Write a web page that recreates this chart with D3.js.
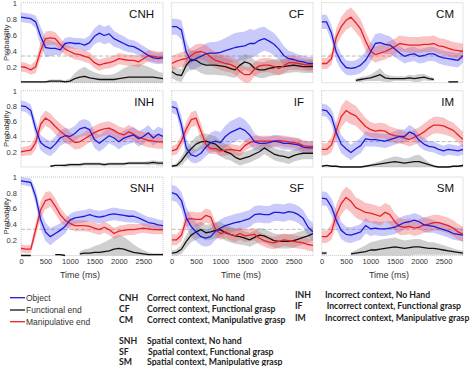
<!DOCTYPE html>
<html>
<head>
<meta charset="utf-8">
<script src="https://cdn.jsdelivr.net/npm/d3@7/dist/d3.min.js"></script>
<style>
  body { margin: 0; background: #fff; }
  svg { display: block; }
</style>
</head>
<body>
<div id="chart"></div>
<script>
// time grid (ms)
const times = [0,100,200,300,400,500,600,700,800,900,1000,1100,1200,1300,1400,1500,1600,1700,1800,1900,2000,2100,2200,2300,2400,2500,2600,2700,2800,2900];

const panelNames = ["CNH", "CF", "CM", "INH", "IF", "IM", "SNH", "SF", "SM"];
const yTicks = [0.2, 0.4, 0.6, 0.8, 1];
const xTicks = [0, 500, 1000, 1500, 2000, 2500];

// --- CNH
const cnhObject = [0.82,0.81,0.80,0.76,0.58,0.44,0.43,0.43,0.41,0.49,0.50,0.49,0.49,0.47,0.50,0.58,0.62,0.59,0.61,0.55,0.52,0.49,0.46,0.45,0.42,0.38,0.34,0.31,0.30,0.31];
const cnhObjectCI = [0.06,0.06,0.06,0.08,0.12,0.12,0.10,0.08,0.07,0.07,0.07,0.07,0.07,0.08,0.09,0.10,0.11,0.11,0.11,0.10,0.09,0.09,0.08,0.08,0.08,0.08,0.08,0.07,0.07,0.07];
const cnhFunctional = [0.01,0.01,0.01,0.01,0.01,0.01,0.02,0.02,0.02,0.01,0.02,0.05,0.07,0.08,0.06,0.05,0.04,0.04,0.04,0.04,0.05,0.06,0.07,0.07,0.07,0.07,0.07,0.07,0.06,0.05];
const cnhFunctionalCI = [0.01,0.01,0.01,0.01,0.01,0.01,0.02,0.02,0.02,0.02,0.03,0.07,0.10,0.12,0.10,0.08,0.07,0.06,0.06,0.07,0.09,0.12,0.14,0.15,0.16,0.15,0.13,0.10,0.08,0.07];
const cnhManipulative = [0.20,0.19,0.16,0.20,0.40,0.55,0.56,0.55,0.48,0.42,0.39,0.36,0.35,0.33,0.31,0.25,0.22,0.24,0.25,0.27,0.30,0.29,0.28,0.28,0.26,0.30,0.34,0.33,0.32,0.32];
const cnhManipulativeCI = [0.06,0.06,0.06,0.08,0.10,0.09,0.09,0.08,0.08,0.07,0.07,0.07,0.07,0.07,0.07,0.07,0.07,0.07,0.07,0.07,0.07,0.07,0.07,0.07,0.07,0.07,0.07,0.07,0.07,0.07];

// --- CF
const cfObject = [0.70,0.70,0.66,0.38,0.27,0.30,0.33,0.36,0.37,0.37,0.38,0.40,0.42,0.44,0.45,0.46,0.49,0.49,0.53,0.55,0.52,0.48,0.42,0.34,0.30,0.29,0.27,0.26,0.24,0.24];
const cfObjectCI = [0.10,0.10,0.12,0.14,0.12,0.12,0.12,0.13,0.14,0.14,0.15,0.16,0.17,0.18,0.18,0.18,0.18,0.17,0.16,0.15,0.14,0.14,0.13,0.12,0.10,0.09,0.08,0.08,0.08,0.08];
const cfFunctional = [0.14,0.10,0.09,0.22,0.29,0.28,0.24,0.22,0.22,0.22,0.21,0.20,0.18,0.16,0.22,0.26,0.24,0.18,0.16,0.16,0.18,0.19,0.20,0.20,0.21,0.22,0.21,0.20,0.20,0.20];
const cfFunctionalCI = [0.08,0.08,0.08,0.10,0.12,0.12,0.12,0.12,0.12,0.12,0.12,0.11,0.11,0.10,0.10,0.10,0.10,0.10,0.10,0.10,0.10,0.10,0.10,0.09,0.09,0.09,0.08,0.08,0.08,0.08];
const cfManipulative = [0.24,0.27,0.29,0.30,0.34,0.38,0.39,0.37,0.32,0.28,0.26,0.24,0.23,0.20,0.14,0.10,0.10,0.17,0.21,0.22,0.22,0.20,0.18,0.21,0.25,0.25,0.24,0.23,0.22,0.22];
const cfManipulativeCI = [0.09,0.09,0.09,0.10,0.10,0.10,0.10,0.10,0.10,0.10,0.10,0.10,0.10,0.10,0.10,0.10,0.10,0.09,0.09,0.09,0.09,0.09,0.09,0.09,0.09,0.09,0.08,0.08,0.08,0.08];

// --- CM
const cmObject = [0.76,0.76,0.62,0.38,0.26,0.19,0.18,0.19,0.22,0.28,0.38,0.49,0.50,0.48,0.47,0.42,0.37,0.33,0.35,0.36,0.33,0.34,0.36,0.36,0.33,0.31,0.30,0.29,0.28,0.34];
const cmObjectCI = [0.09,0.09,0.10,0.11,0.10,0.09,0.09,0.09,0.10,0.11,0.12,0.12,0.12,0.12,0.11,0.10,0.09,0.09,0.09,0.09,0.09,0.09,0.09,0.09,0.09,0.09,0.09,0.09,0.09,0.09];
const cmFunctional = [null,null,null,null,null,null,null,0.03,0.04,0.05,0.06,0.08,0.10,0.06,0.05,0.05,0.05,0.05,0.06,0.05,0.06,0.07,0.05,0.04,null,null,0.01,0.01,0.01,null];
const cmFunctionalCI = [0,0,0,0,0,0,0,0.02,0.03,0.03,0.04,0.06,0.08,0.05,0.04,0.03,0.03,0.03,0.04,0.04,0.05,0.04,0.03,0.02,0,0,0.01,0.01,0.01,0];
const cmManipulative = [0.24,0.24,0.30,0.57,0.70,0.78,0.82,0.75,0.67,0.52,0.40,0.35,0.37,0.39,0.42,0.45,0.49,0.48,0.47,0.47,0.47,0.48,0.48,0.49,0.46,0.45,0.43,0.41,0.40,0.39];
const cmManipulativeCI = [0.07,0.07,0.08,0.11,0.12,0.12,0.12,0.12,0.12,0.12,0.11,0.10,0.10,0.10,0.10,0.10,0.10,0.10,0.10,0.10,0.10,0.10,0.10,0.10,0.10,0.10,0.10,0.10,0.10,0.10];

// --- INH
const inhObject = [0.80,0.79,0.74,0.50,0.32,0.27,0.24,0.30,0.38,0.41,0.40,0.44,0.50,0.52,0.49,0.36,0.31,0.36,0.41,0.38,0.33,0.38,0.40,0.42,0.37,0.40,0.45,0.38,0.43,0.40];
const inhObjectCI = [0.07,0.07,0.08,0.10,0.10,0.10,0.10,0.10,0.10,0.10,0.10,0.10,0.11,0.11,0.11,0.11,0.11,0.11,0.10,0.10,0.10,0.10,0.10,0.10,0.10,0.10,0.10,0.10,0.10,0.10];
const inhFunctional = [null,null,null,null,null,null,0.01,0.02,0.02,0.02,0.03,0.03,0.03,0.04,0.04,0.04,0.04,0.03,0.04,0.04,0.04,0.04,0.05,0.05,0.05,0.05,0.05,0.06,0.05,0.05];
const inhFunctionalCI = [0,0,0,0,0,0,0.01,0.01,0.01,0.02,0.02,0.02,0.02,0.02,0.02,0.02,0.02,0.02,0.02,0.02,0.02,0.02,0.02,0.02,0.02,0.02,0.03,0.03,0.03,0.03];
const inhManipulative = [0.20,0.21,0.22,0.32,0.56,0.64,0.60,0.53,0.47,0.42,0.37,0.32,0.33,0.37,0.41,0.45,0.48,0.50,0.51,0.48,0.44,0.42,0.46,0.43,0.39,0.37,0.35,0.34,0.33,0.33];
const inhManipulativeCI = [0.06,0.06,0.07,0.09,0.10,0.10,0.10,0.10,0.10,0.10,0.09,0.09,0.09,0.09,0.09,0.09,0.09,0.09,0.09,0.09,0.09,0.09,0.09,0.09,0.09,0.09,0.09,0.09,0.09,0.09];

// --- IF
const ifObject = [0.79,0.77,0.55,0.25,0.16,0.14,0.18,0.26,0.32,0.34,0.32,0.40,0.45,0.48,0.51,0.48,0.42,0.33,0.31,0.31,0.32,0.34,0.33,0.31,0.31,0.30,0.29,0.26,0.25,0.25];
const ifObjectCI = [0.08,0.09,0.12,0.12,0.10,0.09,0.10,0.12,0.13,0.14,0.14,0.14,0.15,0.15,0.15,0.14,0.13,0.11,0.09,0.08,0.08,0.08,0.08,0.08,0.08,0.08,0.08,0.08,0.08,0.08];
const ifFunctional = [0.01,0.02,0.08,0.17,0.24,0.30,0.33,0.34,0.32,0.30,0.24,0.20,0.18,0.13,0.10,0.12,0.14,0.17,0.20,0.25,0.21,0.17,0.15,0.14,0.12,0.15,0.17,0.18,0.18,0.18];
const ifFunctionalCI = [0.02,0.03,0.06,0.08,0.09,0.10,0.10,0.10,0.10,0.10,0.10,0.10,0.09,0.08,0.08,0.08,0.08,0.08,0.08,0.08,0.08,0.08,0.08,0.08,0.08,0.08,0.08,0.08,0.08,0.08];
const ifManipulative = [0.21,0.23,0.34,0.50,0.62,0.64,0.47,0.30,0.24,0.24,0.21,0.22,0.23,0.22,0.21,0.28,0.32,0.34,0.34,0.34,0.34,0.34,0.35,0.34,0.33,0.32,0.31,0.28,0.27,0.27];
const ifManipulativeCI = [0.06,0.07,0.08,0.10,0.10,0.10,0.10,0.08,0.07,0.07,0.07,0.07,0.07,0.07,0.07,0.07,0.07,0.07,0.07,0.07,0.07,0.07,0.07,0.07,0.07,0.07,0.07,0.07,0.07,0.07];

// --- IM
const imObject = [0.75,0.74,0.66,0.45,0.30,0.24,0.19,0.24,0.28,0.37,0.36,0.36,0.35,0.34,0.36,0.38,0.40,0.40,0.46,0.43,0.35,0.30,0.27,0.26,0.23,0.21,0.23,0.22,0.21,0.23];
const imObjectCI = [0.08,0.08,0.10,0.12,0.12,0.11,0.10,0.10,0.10,0.10,0.09,0.09,0.09,0.09,0.09,0.09,0.09,0.09,0.09,0.08,0.08,0.08,0.07,0.07,0.07,0.07,0.07,0.07,0.07,0.07];
const imFunctional = [0.01,0.02,0.01,0.01,0.00,0.00,0.00,0.00,0.00,0.01,0.02,0.03,0.04,0.05,0.06,0.07,0.06,0.05,0.06,0.07,0.07,0.05,0.03,0.01,0.00,0.00,0.00,0.01,0.01,0.02];
const imFunctionalCI = [0.01,0.01,0.01,0.01,0.01,0.01,0.01,0.01,0.01,0.01,0.02,0.03,0.04,0.05,0.06,0.07,0.07,0.06,0.06,0.08,0.09,0.06,0.03,0.02,0.01,0.01,0.01,0.01,0.01,0.02];
const imManipulative = [0.23,0.23,0.29,0.48,0.66,0.74,0.70,0.67,0.60,0.53,0.49,0.47,0.48,0.47,0.43,0.41,0.40,0.38,0.36,0.39,0.42,0.46,0.51,0.55,0.55,0.54,0.51,0.48,0.42,0.36];
const imManipulativeCI = [0.08,0.08,0.10,0.12,0.14,0.14,0.14,0.13,0.12,0.11,0.10,0.10,0.10,0.10,0.10,0.10,0.09,0.09,0.09,0.10,0.10,0.11,0.11,0.11,0.11,0.11,0.10,0.10,0.10,0.10];

// --- SNH
const snhObject = [0.95,0.94,0.93,0.75,0.46,0.30,0.24,0.28,0.32,0.37,0.45,0.48,0.49,0.50,0.52,0.50,0.49,0.50,0.52,0.53,0.52,0.51,0.50,0.50,0.48,0.45,0.42,0.41,0.39,0.38];
const snhObjectCI = [0.05,0.05,0.05,0.09,0.12,0.12,0.11,0.10,0.09,0.09,0.08,0.08,0.08,0.08,0.08,0.08,0.08,0.08,0.08,0.08,0.08,0.08,0.08,0.08,0.07,0.07,0.07,0.07,0.07,0.07];
const snhFunctional = [0.00,0.00,0.00,null,null,null,null,0.01,0.01,0.00,null,null,0.02,0.03,0.03,0.04,0.04,0.05,0.06,0.08,0.09,0.08,0.06,0.04,0.03,0.02,0.01,0.01,0.01,0.01];
const snhFunctionalCI = [0.01,0.01,0.01,0,0,0,0,0.01,0.01,0.01,0,0,0.03,0.05,0.06,0.08,0.10,0.12,0.14,0.16,0.17,0.16,0.13,0.10,0.07,0.05,0.03,0.02,0.02,0.02];
const snhManipulative = [0.09,0.08,0.08,0.33,0.58,0.70,0.72,0.63,0.52,0.45,0.41,0.38,0.38,0.38,0.37,0.35,0.33,0.36,0.33,0.28,0.31,0.32,0.33,0.33,0.34,0.35,0.34,0.33,0.33,0.33];
const snhManipulativeCI = [0.05,0.05,0.05,0.09,0.11,0.11,0.10,0.10,0.09,0.08,0.07,0.07,0.07,0.07,0.07,0.07,0.07,0.07,0.07,0.07,0.07,0.07,0.07,0.07,0.06,0.06,0.06,0.06,0.06,0.06];

// --- SF
const sfObject = [0.80,0.78,0.70,0.48,0.37,0.30,0.24,0.22,0.24,0.31,0.35,0.38,0.40,0.42,0.43,0.45,0.47,0.52,0.53,0.52,0.52,0.55,0.55,0.54,0.56,0.55,0.52,0.47,0.36,0.30];
const sfObjectCI = [0.10,0.10,0.11,0.13,0.13,0.12,0.11,0.11,0.11,0.11,0.11,0.11,0.11,0.11,0.11,0.11,0.11,0.11,0.11,0.11,0.11,0.11,0.11,0.11,0.11,0.11,0.11,0.11,0.11,0.11];
const sfFunctional = [0.03,0.04,0.08,0.18,0.26,0.30,0.33,0.29,0.30,0.32,0.33,0.29,0.27,0.25,0.24,0.22,0.20,0.23,0.26,0.25,0.22,0.19,0.18,0.18,0.18,0.19,0.21,0.23,0.25,0.28];
const sfFunctionalCI = [0.03,0.04,0.06,0.08,0.09,0.10,0.10,0.10,0.10,0.10,0.10,0.10,0.10,0.10,0.10,0.09,0.09,0.09,0.09,0.09,0.09,0.09,0.09,0.09,0.09,0.09,0.09,0.09,0.09,0.09];
const sfManipulative = [0.20,0.20,0.26,0.46,0.47,0.46,0.46,0.51,0.49,0.33,0.28,0.30,0.27,0.25,0.28,0.25,0.26,0.27,0.22,0.19,0.17,0.16,0.18,0.20,0.19,0.18,0.17,0.16,0.14,0.13];
const sfManipulativeCI = [0.07,0.07,0.08,0.09,0.09,0.09,0.09,0.09,0.09,0.09,0.08,0.08,0.08,0.08,0.08,0.08,0.08,0.08,0.08,0.08,0.08,0.08,0.08,0.08,0.08,0.08,0.08,0.08,0.08,0.08];

// --- SM
const smObject = [0.73,0.72,0.62,0.45,0.32,0.27,0.26,0.28,0.30,0.38,0.34,0.35,0.34,0.34,0.35,0.36,0.39,0.42,0.43,0.45,0.43,0.39,0.38,0.37,0.35,0.33,0.31,0.28,0.27,0.26];
const smObjectCI = [0.09,0.09,0.11,0.12,0.11,0.10,0.10,0.10,0.10,0.10,0.09,0.09,0.09,0.09,0.09,0.09,0.09,0.09,0.09,0.09,0.09,0.09,0.09,0.08,0.08,0.08,0.08,0.08,0.08,0.08];
const smFunctional = [0.03,0.03,null,null,null,null,0.02,0.03,0.04,0.05,0.07,0.07,0.08,0.09,0.10,0.11,0.10,0.09,0.10,0.11,0.11,0.10,0.09,0.09,0.08,0.07,0.06,0.05,0.04,0.03];
const smFunctionalCI = [0.02,0.02,0,0,0,0,0.02,0.04,0.06,0.08,0.10,0.11,0.12,0.12,0.12,0.12,0.11,0.10,0.10,0.10,0.10,0.09,0.08,0.08,0.07,0.06,0.05,0.04,0.03,0.03];
const smManipulative = [0.24,0.24,0.30,0.52,0.66,0.74,0.69,0.61,0.58,0.55,0.54,0.52,0.50,0.55,0.52,0.43,0.37,0.36,0.37,0.35,0.36,0.39,0.40,0.42,0.42,0.40,0.38,0.35,0.30,0.27];
const smManipulativeCI = [0.08,0.08,0.10,0.13,0.14,0.14,0.14,0.13,0.13,0.12,0.12,0.12,0.12,0.12,0.12,0.11,0.11,0.10,0.10,0.10,0.10,0.10,0.10,0.10,0.10,0.10,0.10,0.10,0.10,0.10];

// legend texts
const seriesLabels = ["Object", "Functional end", "Manipulative end"];
const abbrevCodes = ["CNH", "CF", "CM", "SNH", "SF", "SM", "INH", "IF", "IM"];
const abbrevTexts = [
  "Correct context, No hand", "Correct context, Functional grasp", "Correct context, Manipulative grasp",
  "Spatial context, No hand", "Spatial context, Functional grasp", "Spatial context, Manipulative grasp",
  "Incorrect context, No Hand", "Incorrect context, Functional grasp", "Incorrect context, Manipulative grasp"
];

// table the drawing loop reads
const panelData = [
  [cnhObject, cnhObjectCI, cnhFunctional, cnhFunctionalCI, cnhManipulative, cnhManipulativeCI],
  [cfObject, cfObjectCI, cfFunctional, cfFunctionalCI, cfManipulative, cfManipulativeCI],
  [cmObject, cmObjectCI, cmFunctional, cmFunctionalCI, cmManipulative, cmManipulativeCI],
  [inhObject, inhObjectCI, inhFunctional, inhFunctionalCI, inhManipulative, inhManipulativeCI],
  [ifObject, ifObjectCI, ifFunctional, ifFunctionalCI, ifManipulative, ifManipulativeCI],
  [imObject, imObjectCI, imFunctional, imFunctionalCI, imManipulative, imManipulativeCI],
  [snhObject, snhObjectCI, snhFunctional, snhFunctionalCI, snhManipulative, snhManipulativeCI],
  [sfObject, sfObjectCI, sfFunctional, sfFunctionalCI, sfManipulative, sfManipulativeCI],
  [smObject, smObjectCI, smFunctional, smFunctionalCI, smManipulative, smManipulativeCI]
];

const width = 474, height = 366;
const colX = [[21, 163], [171.7, 313], [321.7, 463]];
const rowY = [[2.7, 82.7], [90.7, 167], [177, 255.5]];

// order: object, functional, manipulative
const lineColors = ["#1c1cd8", "#111111", "#e8202a"];
const bandColors = ["#5a5aee", "#808080", "#ee5a5a"];
const bandOpacity = [0.32, 0.38, 0.36];

const svg = d3.select("#chart").append("svg")
  .attr("width", width)
  .attr("height", height)
  .style("font-family", "'Liberation Sans', Arial, sans-serif");

const defs = svg.append("defs");

panelNames.forEach((name, i) => {
  const col = i % 3, row = Math.floor(i / 3);
  const x = d3.scaleLinear().domain([0, 2900]).range(colX[col]);
  const y = d3.scaleLinear().domain([0, 1]).range([rowY[row][1], rowY[row][0]]);
  const g = svg.append("g");

  defs.append("clipPath").attr("id", "clip" + i)
    .append("rect")
    .attr("x", x(0)).attr("y", y(1))
    .attr("width", x(2900) - x(0)).attr("height", y(0) - y(1) + 1.5);

  // frame
  g.append("rect")
    .attr("x", x(0)).attr("y", y(1))
    .attr("width", x(2900) - x(0)).attr("height", y(0) - y(1))
    .attr("fill", "none")
    .attr("stroke", "#b8b8b8")
    .attr("stroke-width", 0.8)
    .attr("stroke-dasharray", "1,1");

  // chance level
  g.append("line")
    .attr("x1", x(0)).attr("x2", x(2900))
    .attr("y1", y(1 / 3)).attr("y2", y(1 / 3))
    .attr("stroke", "#a8a8a8")
    .attr("stroke-width", 0.8)
    .attr("stroke-dasharray", "4,2");

  const plot = g.append("g").attr("clip-path", `url(#clip${i})`);
  const d = panelData[i];

  // bands
  [0, 1, 2].forEach(s => {
    const mean = d[s * 2], ci = d[s * 2 + 1];
    const area = d3.area()
      .defined((t, k) => mean[k] != null)
      .x(t => x(t))
      .y0((t, k) => y(Math.max(0, mean[k] - ci[k])))
      .y1((t, k) => y(Math.min(1, mean[k] + ci[k])));
    plot.append("path")
      .attr("d", area(times))
      .attr("fill", bandColors[s])
      .attr("fill-opacity", bandOpacity[s]);
  });

  // lines: functional, manipulative, object
  [1, 2, 0].forEach(s => {
    const mean = d[s * 2];
    const line = d3.line()
      .defined((t, k) => mean[k] != null)
      .x(t => x(t))
      .y((t, k) => y(mean[k]));
    plot.append("path")
      .attr("d", line(times))
      .attr("fill", "none")
      .attr("stroke", lineColors[s])
      .attr("stroke-width", 1.3)
      .attr("stroke-linejoin", "round");
  });

  // panel title
  g.append("text")
    .attr("x", x(2900) - 9)
    .attr("y", y(1) + 15)
    .attr("text-anchor", "end")
    .attr("font-size", 11.5)
    .attr("fill", "#111")
    .text(name);

  // y axis on the left column
  if (col === 0) {
    const ya = g.append("g")
      .attr("transform", `translate(${x(0)},0)`)
      .call(d3.axisLeft(y).tickValues(yTicks).tickSize(0).tickPadding(4)
        .tickFormat(v => v === 1 ? "1" : d3.format(".1f")(v)));
    ya.select(".domain").remove();
    ya.selectAll("text").attr("font-size", 7.5).attr("fill", "#333")
      .style("font-family", "'Liberation Sans', Arial, sans-serif");

    g.append("text")
      .attr("transform", `translate(8.5,${(y(0) + y(1)) / 2}) rotate(-90)`)
      .attr("text-anchor", "middle")
      .attr("font-size", 7.8)
      .attr("fill", "#333")
      .text("Probability");
  }

  // x axis on the bottom row
  if (row === 2) {
    const xa = g.append("g")
      .attr("transform", `translate(0,${y(0)})`)
      .call(d3.axisBottom(x).tickValues(xTicks).tickSize(0).tickPadding(3)
        .tickFormat(d3.format("d")));
    xa.select(".domain").remove();
    xa.selectAll("text").attr("font-size", 7.5).attr("fill", "#333")
      .style("font-family", "'Liberation Sans', Arial, sans-serif");
  }
});

// "Time (ms)" labels
[80, 241, 389].forEach(cx => {
  svg.append("text")
    .attr("x", cx).attr("y", 278)
    .attr("text-anchor", "middle")
    .attr("font-size", 9)
    .attr("fill", "#333")
    .text("Time (ms)");
});

// series legend
const legendY = [297.7, 310, 321.7];
const legendOrder = [0, 1, 2];
legendOrder.forEach((s, k) => {
  svg.append("line")
    .attr("x1", 10).attr("x2", 25)
    .attr("y1", legendY[k]).attr("y2", legendY[k])
    .attr("stroke", lineColors[s])
    .attr("stroke-width", 1.3);
  svg.append("text")
    .attr("x", 26).attr("y", legendY[k] + 3)
    .attr("font-size", 8.5)
    .attr("fill", "#333")
    .text(seriesLabels[s]);
});

// abbreviation legend
const abbrevPos = [
  [119, 147, 300.5], [119, 147, 311.5], [119, 147, 323],
  [119, 147, 344], [119, 148, 354.5], [119, 147, 365],
  [295, 325, 298.3], [295, 326.7, 309.3], [295, 325, 320.7]
];
abbrevCodes.forEach((code, k) => {
  const p = abbrevPos[k];
  svg.append("text")
    .attr("x", p[0]).attr("y", p[2])
    .attr("font-size", 8.7).attr("font-weight", "bold")
    .attr("fill", "#222")
    .style("font-family", "Lato, 'Open Sans', sans-serif")
    .text(code);
  svg.append("text")
    .attr("x", p[1]).attr("y", p[2])
    .attr("font-size", 8.7).attr("font-weight", "bold")
    .attr("fill", "#222")
    .style("font-family", "Lato, 'Open Sans', sans-serif")
    .text(abbrevTexts[k]);
});
</script>
</body>
</html>
